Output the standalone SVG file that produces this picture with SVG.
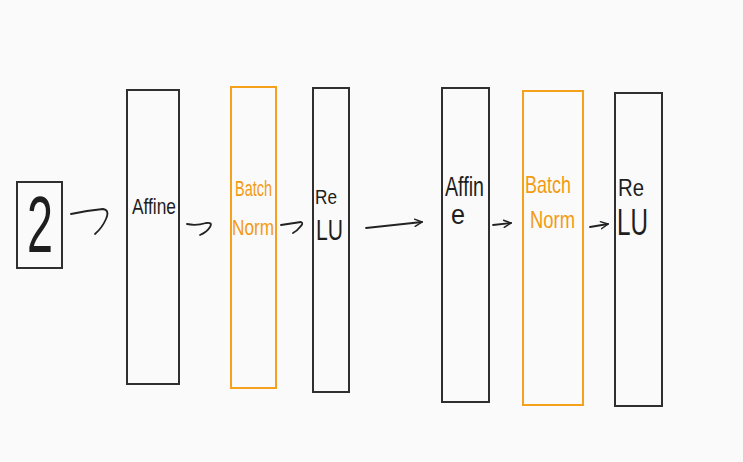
<svg xmlns="http://www.w3.org/2000/svg" width="743" height="462" viewBox="0 0 743 462">
<style>
.bk{fill:none;stroke:#2f2f2f;stroke-width:2}
.or{fill:none;stroke:#f5a11c;stroke-width:2}
.t{font-family:"Liberation Sans",Arial,sans-serif;fill:#1e1e1e}
.to{font-family:"Liberation Sans",Arial,sans-serif;fill:#f39a12}
.c{fill:none;stroke:#222;stroke-width:1.8;stroke-linecap:round;stroke-linejoin:round}
</style>
<defs>
<marker id="ah" viewBox="0 0 10 10" refX="9" refY="5" markerWidth="9" markerHeight="9" markerUnits="userSpaceOnUse" orient="auto">
<path d="M1,1 L9,5 L1,9" fill="none" stroke="#222" stroke-width="1.6" stroke-linecap="round"/>
</marker>
</defs>
<rect x="0" y="0" width="743" height="462" fill="#fafafa"/>
<g id="input">
<rect class="bk" x="17" y="182" width="45" height="86"/>
<text class="t" x="27" y="252" font-size="80" textLength="26" lengthAdjust="spacingAndGlyphs">2</text>
</g>
<g id="affine1">
<rect class="bk" x="127" y="90" width="52" height="294"/>
<text class="t" x="132" y="214" font-size="22" textLength="44" lengthAdjust="spacingAndGlyphs">Affine</text>
</g>
<g id="batchnorm1">
<rect class="or" x="231" y="87" width="45" height="301"/>
<text class="to" x="235" y="196" font-size="22" textLength="37" lengthAdjust="spacingAndGlyphs">Batch</text>
<text class="to" x="232" y="235" font-size="22" textLength="42" lengthAdjust="spacingAndGlyphs">Norm</text>
</g>
<g id="relu1">
<rect class="bk" x="313" y="88" width="36" height="304"/>
<text class="t" x="315" y="204" font-size="21" textLength="22" lengthAdjust="spacingAndGlyphs">Re</text>
<text class="t" x="316" y="240" font-size="29" textLength="27" lengthAdjust="spacingAndGlyphs">LU</text>
</g>
<g id="affine2">
<rect class="bk" x="442" y="88" width="47" height="314"/>
<text class="t" x="445" y="196" font-size="28" textLength="39" lengthAdjust="spacingAndGlyphs">Affin</text>
<text class="t" x="451" y="224" font-size="27" textLength="14" lengthAdjust="spacingAndGlyphs">e</text>
</g>
<g id="batchnorm2">
<rect class="or" x="523" y="91" width="60" height="314"/>
<text class="to" x="525" y="193" font-size="24" textLength="46" lengthAdjust="spacingAndGlyphs">Batch</text>
<text class="to" x="530" y="228" font-size="23" textLength="45" lengthAdjust="spacingAndGlyphs">Norm</text>
</g>
<g id="relu2">
<rect class="bk" x="615" y="93" width="47" height="313"/>
<text class="t" x="618" y="196" font-size="24" textLength="26" lengthAdjust="spacingAndGlyphs">Re</text>
<text class="t" x="617" y="235" font-size="37" textLength="31" lengthAdjust="spacingAndGlyphs">LU</text>
</g>
<g id="connectors">
<path class="c" d="M71,214 C80,212 92,210 103,209 Q110,210 106,219 Q102,228 95,234"/>
<path class="c" d="M187,224 Q196,226 206,223 Q213,222 210,227 Q207,232 200,235"/>
<path class="c" d="M281,225 L301,222 Q304,223 300,227 Q297,231 293,233"/>
<path class="c" d="M366,228 L422,222" marker-end="url(#ah)"/>
<path class="c" d="M493,225 L511,223" marker-end="url(#ah)"/>
<path class="c" d="M590,227 L608,224" marker-end="url(#ah)"/>
</g>
</svg>
